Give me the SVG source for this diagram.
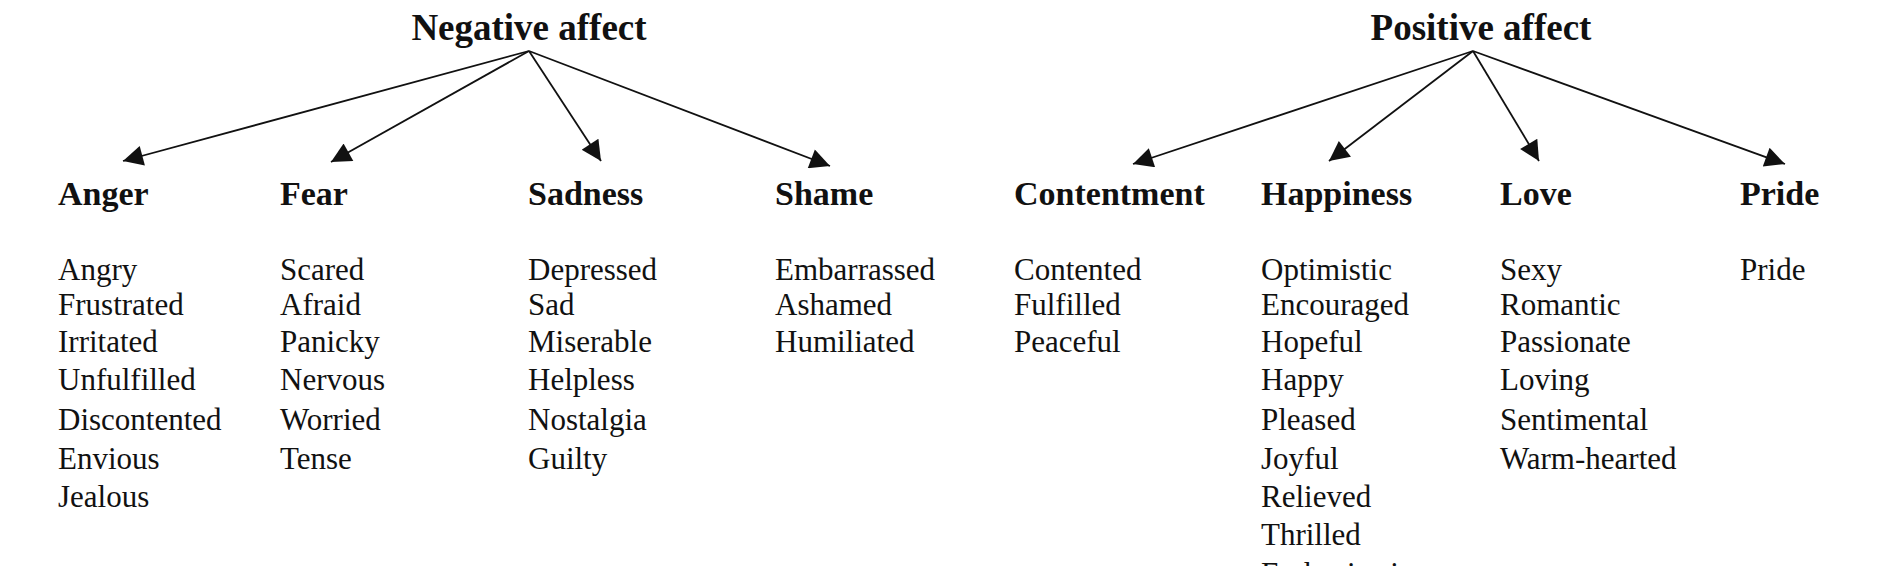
<svg xmlns="http://www.w3.org/2000/svg" width="1885" height="566" viewBox="0 0 1885 566">
<defs>
<marker id="ah" viewBox="0 0 10 10" refX="10" refY="5" markerWidth="26" markerHeight="20" markerUnits="userSpaceOnUse" orient="auto"><path d="M0,0 L10,5 L0,10 z" fill="#111"/></marker>
<style>
.t{font-family:"Liberation Serif",serif;font-weight:bold;font-size:37px;fill:#111;text-anchor:middle}
.h{font-family:"Liberation Serif",serif;font-weight:bold;font-size:34px;fill:#111}
.i{font-family:"Liberation Serif",serif;font-size:31px;fill:#111}
.c{stroke:#111;stroke-width:1.8;fill:none;marker-end:url(#ah)}
</style>
</defs>
<rect width="1885" height="566" fill="#fff"/>
<g id="neg"><text class="t" x="529" y="40">Negative affect</text></g>
<g id="pos"><text class="t" x="1481" y="40">Positive affect</text></g>
<g id="connectors">
<line class="c" x1="529" y1="51" x2="123" y2="161"/>
<line class="c" x1="529" y1="51" x2="331" y2="162"/>
<line class="c" x1="529" y1="51" x2="601" y2="161"/>
<line class="c" x1="529" y1="51" x2="830" y2="166"/>
<line class="c" x1="1473" y1="51" x2="1133" y2="164"/>
<line class="c" x1="1473" y1="51" x2="1329" y2="161"/>
<line class="c" x1="1473" y1="51" x2="1539" y2="161"/>
<line class="c" x1="1473" y1="51" x2="1785" y2="164"/>
</g>
<g id="anger"><text class="h" x="58" y="205">Anger</text>
<text class="i" x="58" y="280">Angry</text><text class="i" x="58" y="315">Frustrated</text><text class="i" x="58" y="352">Irritated</text><text class="i" x="58" y="390">Unfulfilled</text><text class="i" x="58" y="430">Discontented</text><text class="i" x="58" y="469">Envious</text><text class="i" x="58" y="507">Jealous</text></g>
<g id="fear"><text class="h" x="280" y="205">Fear</text>
<text class="i" x="280" y="280">Scared</text><text class="i" x="280" y="315">Afraid</text><text class="i" x="280" y="352">Panicky</text><text class="i" x="280" y="390">Nervous</text><text class="i" x="280" y="430">Worried</text><text class="i" x="280" y="469">Tense</text></g>
<g id="sadness"><text class="h" x="528" y="205">Sadness</text>
<text class="i" x="528" y="280">Depressed</text><text class="i" x="528" y="315">Sad</text><text class="i" x="528" y="352">Miserable</text><text class="i" x="528" y="390">Helpless</text><text class="i" x="528" y="430">Nostalgia</text><text class="i" x="528" y="469">Guilty</text></g>
<g id="shame"><text class="h" x="775" y="205">Shame</text>
<text class="i" x="775" y="280">Embarrassed</text><text class="i" x="775" y="315">Ashamed</text><text class="i" x="775" y="352">Humiliated</text></g>
<g id="contentment"><text class="h" x="1014" y="205">Contentment</text>
<text class="i" x="1014" y="280">Contented</text><text class="i" x="1014" y="315">Fulfilled</text><text class="i" x="1014" y="352">Peaceful</text></g>
<g id="happiness"><text class="h" x="1261" y="205">Happiness</text>
<text class="i" x="1261" y="280">Optimistic</text><text class="i" x="1261" y="315">Encouraged</text><text class="i" x="1261" y="352">Hopeful</text><text class="i" x="1261" y="390">Happy</text><text class="i" x="1261" y="430">Pleased</text><text class="i" x="1261" y="469">Joyful</text><text class="i" x="1261" y="507">Relieved</text><text class="i" x="1261" y="545">Thrilled</text><text class="i" x="1261" y="584">Enthusiastic</text></g>
<g id="love"><text class="h" x="1500" y="205">Love</text>
<text class="i" x="1500" y="280">Sexy</text><text class="i" x="1500" y="315">Romantic</text><text class="i" x="1500" y="352">Passionate</text><text class="i" x="1500" y="390">Loving</text><text class="i" x="1500" y="430">Sentimental</text><text class="i" x="1500" y="469">Warm-hearted</text></g>
<g id="pride"><text class="h" x="1740" y="205">Pride</text>
<text class="i" x="1740" y="280">Pride</text></g>
</svg>
